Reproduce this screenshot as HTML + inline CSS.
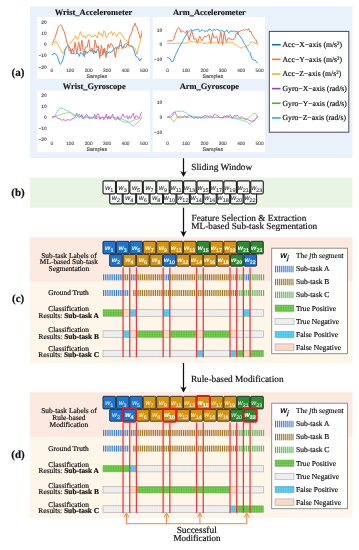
<!DOCTYPE html>
<html lang="en"><head><meta charset="utf-8"><title>Figure</title>
<style>
html,body{margin:0;padding:0;background:#fff;}
svg{display:block;}
text{text-rendering:geometricPrecision;}
</style></head><body>
<svg width="359" height="550" viewBox="0 0 359 550">
<defs>
<pattern id="dots" width="1.7" height="1.7" patternUnits="userSpaceOnUse"><rect x="0" y="0" width="0.8" height="0.8" fill="#ffffff" fill-opacity="0.3"/><rect x="0.85" y="0.85" width="0.8" height="0.8" fill="#000" fill-opacity="0.025"/></pattern>
<pattern id="sB" x="103.0" y="0" width="1.86" height="10" patternUnits="userSpaceOnUse"><rect x="0" y="0" width="1.05" height="10" fill="#2F7FD8"/></pattern>
<pattern id="sBL" x="275" y="0" width="1.95" height="10" patternUnits="userSpaceOnUse"><rect x="0" y="0" width="1.1" height="10" fill="#2F7FD8"/></pattern>
<pattern id="sG" x="103.0" y="0" width="1.86" height="10" patternUnits="userSpaceOnUse"><rect x="0" y="0" width="1.05" height="10" fill="#9A7218"/></pattern>
<pattern id="sGL" x="275" y="0" width="1.95" height="10" patternUnits="userSpaceOnUse"><rect x="0" y="0" width="1.1" height="10" fill="#9A7218"/></pattern>
<pattern id="sR" x="103.0" y="0" width="1.86" height="10" patternUnits="userSpaceOnUse"><rect x="0" y="0" width="1.05" height="10" fill="#55B653"/></pattern>
<pattern id="sRL" x="275" y="0" width="1.95" height="10" patternUnits="userSpaceOnUse"><rect x="0" y="0" width="1.1" height="10" fill="#55B653"/></pattern>
</defs>
<rect x="30.00" y="6.40" width="322.50" height="151.60" fill="#E9F1FB" />
<rect x="37.00" y="17.00" width="113.00" height="61.70" fill="#fff" />
<rect x="152.70" y="17.00" width="112.30" height="61.70" fill="#fff" />
<rect x="37.00" y="90.40" width="113.00" height="61.70" fill="#fff" />
<rect x="152.70" y="90.40" width="112.30" height="61.70" fill="#fff" />
<polyline points="52.4,44.6 53.7,42.8 55.0,41.7 56.3,41.5 57.5,43.8 58.8,46.3 60.1,48.6 61.4,50.9 62.7,53.3 64.0,51.6 65.2,49.2 66.5,47.7 67.8,45.6 69.1,44.5 70.4,42.9 71.7,41.1 72.9,40.7 74.2,37.8 75.5,35.5 76.8,39.1 78.1,39.0 79.4,34.8 80.6,31.5 81.9,35.8 83.2,37.0 84.5,35.2 85.8,38.2 87.1,36.6 88.3,34.8 89.6,34.2 90.9,36.4 92.2,36.4 93.5,36.5 94.8,34.7 96.0,36.1 97.3,38.2 98.6,31.8 99.9,34.1 101.2,33.4 102.5,37.1 103.8,30.8 105.0,31.9 106.3,37.7 107.6,36.1 108.9,33.1 110.2,33.2 111.5,31.5 112.7,35.6 114.0,32.4 115.3,33.7 116.6,36.7 117.9,34.5 119.2,32.2 120.4,32.5 121.7,35.3 123.0,35.5 124.3,39.3 125.6,39.9 126.9,40.6 128.1,44.3 129.4,47.3 130.7,46.7 132.0,46.6 133.3,46.9 134.6,47.9 135.8,50.6 137.1,54.4 138.4,46.9 139.7,43.8 141.0,37.5 141.7,30.8" fill="none" stroke="#FBB53C" stroke-width="1.0" stroke-linejoin="round" stroke-linecap="round"/>
<polyline points="52.4,54.6 53.7,53.8 55.0,53.5 56.3,54.5 57.5,56.9 58.8,60.9 60.1,64.5 61.4,63.3 62.7,60.1 64.0,55.6 65.2,49.5 66.5,46.8 67.8,45.6 69.1,46.9 70.4,49.0 71.7,52.7 72.9,53.9 74.2,52.8 75.5,54.1 76.8,53.0 78.1,53.2 79.4,56.4 80.6,52.4 81.9,53.2 83.2,55.0 84.5,56.8 85.8,50.9 87.1,53.6 88.3,51.7 89.6,50.3 90.9,51.5 92.2,49.8 93.5,53.8 94.8,50.6 96.0,53.3 97.3,49.4 98.6,49.7 99.9,55.8 101.2,55.4 102.5,54.7 103.8,48.7 105.0,52.8 106.3,51.2 107.6,53.7 108.9,51.7 110.2,52.3 111.5,52.2 112.7,50.3 114.0,50.0 115.3,47.6 116.6,48.8 117.9,46.7 119.2,46.7 120.4,45.4 121.7,46.5 123.0,48.3 124.3,44.6 125.6,43.7 126.9,44.0 128.1,45.2 129.4,44.8 130.7,46.1 132.0,45.8 133.3,48.5 134.6,52.0 135.8,56.4 137.1,57.0 138.4,57.8 139.7,60.9 141.0,58.7 141.7,58.9" fill="none" stroke="#2FA3DE" stroke-width="1.0" stroke-linejoin="round" stroke-linecap="round"/>
<polyline points="52.4,42.6 53.4,41.5 54.4,38.7 55.4,37.1 56.4,32.8 57.4,29.9 58.3,26.8 59.3,25.7 60.3,24.9 61.3,25.5 62.3,27.2 63.3,30.0 64.3,31.6 65.3,35.8 66.3,39.7 67.3,44.2 68.2,45.3 69.2,50.8 70.2,49.3 71.2,54.0 72.2,48.4 73.7,52.5 75.1,42.2 76.7,54.0 78.7,41.9 80.3,51.1 81.9,40.2 83.7,55.7 85.2,47.1 87.2,47.0 88.7,39.7 90.4,50.8 92.1,48.2 93.7,53.3 95.0,40.1 97.0,48.1 98.3,45.8 99.7,58.4 101.4,45.0 102.8,55.1 104.6,48.1 106.0,57.6 108.1,44.2 109.3,47.7 110.7,43.7 112.2,44.6 113.6,48.0 115.3,57.4 116.9,46.9 118.7,49.0 120.6,39.7 122.2,48.7 123.7,46.3 125.7,47.6 127.2,44.6 128.2,44.7 129.2,38.1 130.2,36.0 131.2,33.4 132.2,31.1 133.2,26.7 134.2,26.0 135.2,23.1 136.1,26.6 137.1,27.0 138.1,31.7 139.1,34.2 140.1,38.1 141.1,36.1 141.7,34.2" fill="none" stroke="#F4734B" stroke-width="1.0" stroke-linejoin="round" stroke-linecap="round"/>
<polyline points="167.6,43.5 168.9,43.5 170.2,43.5 171.5,43.6 172.8,43.7 174.0,43.3 175.3,43.4 176.6,43.2 177.9,43.4 179.2,43.1 180.5,43.4 181.8,43.0 183.1,43.0 184.3,43.2 185.6,43.0 186.9,42.7 188.2,42.9 189.5,42.2 190.8,41.5 192.1,42.2 193.4,41.5 194.6,41.8 195.9,41.7 197.2,42.6 198.5,43.1 199.8,42.1 201.1,42.2 202.4,43.0 203.7,43.6 205.0,43.5 206.2,42.8 207.5,43.3 208.8,42.3 210.1,42.8 211.4,43.4 212.7,42.6 214.0,43.1 215.3,42.1 216.5,42.1 217.8,42.7 219.1,42.5 220.4,42.4 221.7,42.2 223.0,41.9 224.3,43.3 225.6,42.8 226.8,42.4 228.1,42.8 229.4,42.3 230.7,43.1 232.0,41.8 233.3,43.1 234.6,44.6 235.9,44.5 237.2,45.8 238.4,46.7 239.7,46.9 241.0,48.2 242.3,47.9 243.6,46.6 244.9,46.5 246.2,47.3 247.5,45.3 248.7,45.5 250.0,43.9 251.3,41.9 252.6,41.7 253.9,42.8 255.2,43.3 256.5,44.0 257.4,44.4" fill="none" stroke="#FBB53C" stroke-width="1.0" stroke-linejoin="round" stroke-linecap="round"/>
<polyline points="167.6,41.0 168.8,41.1 170.0,40.6 171.2,40.8 172.5,40.3 173.7,39.3 174.9,35.3 176.1,32.1 177.3,29.3 178.5,27.5 179.7,28.7 181.0,32.3 182.2,31.2 183.4,31.1 184.6,32.2 185.8,33.3 187.0,30.4 189.1,40.6 191.6,30.2 194.0,39.5 195.7,38.2 197.5,43.1 199.7,36.1 202.0,40.8 204.1,36.8 206.6,36.5 208.9,34.4 210.8,43.5 212.4,32.8 214.1,38.0 216.6,36.5 218.6,43.8 220.9,31.7 222.5,44.6 224.3,32.1 226.2,41.7 228.0,38.3 229.6,38.4 232.1,39.9 234.6,38.9 236.4,32.9 237.6,34.5 238.8,31.1 240.1,31.6 241.3,30.2 242.5,30.4 243.7,29.3 244.9,30.5 246.1,29.3 247.3,30.4 248.6,28.5 249.8,31.9 251.0,31.3 252.2,34.9 253.4,36.5 254.6,38.4 255.8,39.6 257.1,43.3 257.4,43.1" fill="none" stroke="#F4734B" stroke-width="1.0" stroke-linejoin="round" stroke-linecap="round"/>
<polyline points="167.6,57.5 168.9,58.1 170.2,59.1 171.5,61.6 172.8,61.8 174.0,58.6 175.3,55.4 176.6,52.7 177.9,49.9 179.2,47.5 180.5,45.0 181.8,42.9 183.1,40.6 184.3,38.4 185.6,36.0 186.9,33.8 188.2,32.3 189.5,30.8 190.8,29.5 192.1,30.5 193.4,30.7 194.6,30.0 195.9,29.8 197.2,29.4 198.5,29.3 199.8,31.8 201.1,30.2 202.4,29.9 203.7,30.5 205.0,31.5 206.2,30.6 207.5,31.8 208.8,29.1 210.1,29.3 211.4,30.3 212.7,31.1 214.0,29.2 215.3,30.3 216.5,29.4 217.8,29.5 219.1,30.6 220.4,31.0 221.7,30.4 223.0,31.0 224.3,31.9 225.6,31.5 226.8,29.9 228.1,32.4 229.4,32.4 230.7,30.6 232.0,31.7 233.3,31.0 234.6,31.2 235.9,31.8 237.2,31.4 238.4,34.3 239.7,35.8 241.0,38.0 242.3,39.6 243.6,42.4 244.9,44.6 246.2,46.2 247.5,49.4 248.7,51.2 250.0,52.5 251.3,57.2 252.6,59.4 253.9,60.1 255.2,60.1 256.5,61.8 257.4,63.0" fill="none" stroke="#2FA3DE" stroke-width="1.0" stroke-linejoin="round" stroke-linecap="round"/>
<polyline points="52.4,117.1 53.7,116.7 55.0,116.4 56.3,115.9 57.5,115.7 58.8,115.2 60.1,114.6 61.4,114.5 62.7,114.0 64.0,113.7 65.2,113.3 66.5,113.0 67.8,112.8 69.1,112.2 70.4,112.5 71.7,113.0 72.9,113.6 74.2,114.4 75.5,115.1 76.8,115.1 78.1,115.9 79.4,116.5 80.6,116.6 81.9,115.8 83.2,117.4 84.5,116.7 85.8,117.3 87.1,117.0 88.3,117.6 89.6,117.1 90.9,117.6 92.2,117.4 93.5,117.1 94.8,117.8 96.0,118.6 97.3,118.8 98.6,117.4 99.9,118.1 101.2,118.5 102.5,117.1 103.8,117.7 105.0,117.3 106.3,117.0 107.6,117.9 108.9,117.6 110.2,116.7 111.5,117.8 112.7,116.7 114.0,118.1 115.3,117.8 116.6,118.4 117.9,118.7 119.2,119.5 120.4,120.3 121.7,121.1 123.0,121.7 124.3,122.1 125.6,122.1 126.9,122.2 128.1,121.9 129.4,122.1 130.7,121.4 132.0,120.9 133.3,120.3 134.6,119.9 135.8,119.5 137.1,119.2 138.4,118.8 139.7,118.4 141.0,117.8 141.7,117.7" fill="none" stroke="#9CCB5A" stroke-width="0.85" stroke-linejoin="round" stroke-linecap="round"/>
<polyline points="52.4,117.1 53.7,116.7 55.0,115.3 56.3,113.2 57.5,111.1 58.8,109.4 60.1,108.0 61.4,108.0 62.7,108.7 64.0,109.1 65.2,109.8 66.5,110.4 67.8,110.9 69.1,111.5 70.4,112.7 71.7,114.0 72.9,115.2 74.2,115.6 75.5,116.6 76.8,117.4 78.1,115.8 79.4,118.4 80.6,116.2 81.9,117.8 83.2,118.2 84.5,118.3 85.8,117.8 87.1,116.4 88.3,118.2 89.6,117.1 90.9,117.0 92.2,117.7 93.5,117.3 94.8,118.7 96.0,118.7 97.3,118.3 98.6,117.0 99.9,117.7 101.2,118.1 102.5,117.3 103.8,117.7 105.0,118.2 106.3,116.8 107.6,117.1 108.9,118.4 110.2,117.6 111.5,117.8 112.7,117.0 114.0,117.4 115.3,118.5 116.6,117.1 117.9,118.9 119.2,118.3 120.4,117.8 121.7,119.3 123.0,119.3 124.3,120.3 125.6,120.2 126.9,121.1 128.1,122.2 129.4,123.0 130.7,124.3 132.0,125.2 133.3,126.2 134.6,125.2 135.8,124.3 137.1,122.9 138.4,121.5 139.7,120.4 141.0,118.9 141.7,118.2" fill="none" stroke="#4FD3EE" stroke-width="0.85" stroke-linejoin="round" stroke-linecap="round"/>
<polyline points="52.4,117.1 53.7,116.9 55.0,116.9 56.3,116.4 57.5,118.2 58.8,118.8 60.1,118.7 61.4,120.3 62.7,119.8 64.0,119.7 65.2,120.6 66.5,120.1 67.8,119.5 69.1,120.2 70.4,119.9 71.7,119.9 72.9,118.0 74.2,118.5 75.5,116.2 76.8,113.2 78.1,115.4 79.4,114.3 80.6,116.9 81.9,114.5 83.2,118.8 84.5,117.6 85.8,115.1 87.1,114.8 88.3,116.8 89.6,119.1 90.9,117.9 92.2,118.3 93.5,117.9 94.8,114.4 96.0,118.5 97.3,114.0 98.6,114.0 99.9,119.5 101.2,117.4 102.5,116.7 103.8,119.8 105.0,117.2 106.3,114.0 107.6,119.3 108.9,116.1 110.2,119.2 111.5,116.2 112.7,114.1 114.0,118.7 115.3,119.9 116.6,119.4 117.9,116.4 119.2,119.8 120.4,119.4 121.7,116.6 123.0,113.8 124.3,117.1 125.6,117.2 126.9,115.6 128.1,119.1 129.4,115.8 130.7,118.4 132.0,115.4 133.3,113.1 134.6,119.0 135.8,115.9 137.1,116.0 138.4,118.3 139.7,117.4 141.0,113.2 141.7,112.1" fill="none" stroke="#C860C8" stroke-width="0.85" stroke-linejoin="round" stroke-linecap="round"/>
<polyline points="167.6,117.1 168.9,117.5 170.2,117.9 171.5,118.6 172.8,120.9 174.0,121.6 175.3,120.0 176.6,118.3 177.9,116.5 179.2,116.3 180.5,116.6 181.8,116.9 183.1,117.3 184.3,117.1 185.6,117.3 186.9,116.9 188.2,117.3 189.5,116.9 190.8,117.3 192.1,117.0 193.4,117.2 194.6,117.2 195.9,116.9 197.2,117.4 198.5,117.3 199.8,116.9 201.1,117.1 202.4,117.3 203.7,116.8 205.0,116.9 206.2,117.3 207.5,117.2 208.8,117.4 210.1,117.3 211.4,117.1 212.7,117.4 214.0,117.1 215.3,117.5 216.5,117.5 217.8,117.1 219.1,117.4 220.4,117.4 221.7,117.3 223.0,117.4 224.3,117.5 225.6,117.7 226.8,117.3 228.1,117.2 229.4,117.2 230.7,117.4 232.0,117.6 233.3,117.7 234.6,117.7 235.9,117.8 237.2,118.1 238.4,118.2 239.7,118.2 241.0,118.3 242.3,118.4 243.6,118.7 244.9,119.1 246.2,119.1 247.5,118.7 248.7,117.7 250.0,116.6 251.3,115.2 252.6,114.0 253.9,113.4 255.2,113.2 256.5,114.7 257.4,117.1" fill="none" stroke="#9CCB5A" stroke-width="0.85" stroke-linejoin="round" stroke-linecap="round"/>
<polyline points="167.6,117.1 168.9,116.4 170.2,115.7 171.5,114.5 172.8,113.0 174.0,112.2 175.3,111.5 176.6,111.1 177.9,111.2 179.2,111.5 180.5,111.4 181.8,111.0 183.1,111.2 184.3,112.0 185.6,112.5 186.9,113.4 188.2,114.5 189.5,115.2 190.8,115.7 192.1,116.2 193.4,116.4 194.6,116.6 195.9,117.0 197.2,116.8 198.5,116.8 199.8,117.0 201.1,117.3 202.4,117.9 203.7,118.1 205.0,118.1 206.2,117.4 207.5,117.9 208.8,117.8 210.1,117.3 211.4,117.8 212.7,117.5 214.0,117.6 215.3,117.9 216.5,117.4 217.8,117.1 219.1,117.7 220.4,117.6 221.7,117.4 223.0,117.6 224.3,117.2 225.6,116.9 226.8,117.0 228.1,117.1 229.4,117.0 230.7,117.8 232.0,117.8 233.3,118.2 234.6,118.3 235.9,118.8 237.2,118.8 238.4,119.5 239.7,119.8 241.0,119.9 242.3,120.2 243.6,120.7 244.9,121.0 246.2,121.4 247.5,122.2 248.7,123.3 250.0,124.5 251.3,122.8 252.6,121.3 253.9,120.7 255.2,119.8 256.5,118.2 257.4,117.1" fill="none" stroke="#4FD3EE" stroke-width="0.85" stroke-linejoin="round" stroke-linecap="round"/>
<polyline points="167.6,117.1 168.9,117.1 170.2,117.1 171.5,116.8 172.8,114.8 174.0,112.7 175.3,112.3 176.6,115.9 177.9,117.5 179.2,117.8 180.5,117.8 181.8,116.8 183.1,117.4 184.3,115.8 185.6,116.2 186.9,118.0 188.2,115.5 189.5,115.5 190.8,116.6 192.1,116.7 193.4,118.2 194.6,118.6 195.9,116.7 197.2,118.4 198.5,117.9 199.8,117.6 201.1,118.4 202.4,116.6 203.7,116.7 205.0,115.0 206.2,116.3 207.5,115.8 208.8,116.4 210.1,115.8 211.4,116.7 212.7,117.4 214.0,114.5 215.3,114.5 216.5,115.2 217.8,115.7 219.1,117.4 220.4,117.7 221.7,117.5 223.0,118.4 224.3,115.6 225.6,117.0 226.8,115.2 228.1,117.0 229.4,114.8 230.7,115.2 232.0,118.3 233.3,117.5 234.6,115.0 235.9,116.5 237.2,114.8 238.4,116.8 239.7,117.7 241.0,116.9 242.3,117.2 243.6,118.3 244.9,119.0 246.2,119.2 247.5,119.2 248.7,119.9 250.0,120.9 251.3,121.0 252.6,121.1 253.9,121.1 255.2,119.3 256.5,117.8 257.4,116.4" fill="none" stroke="#C860C8" stroke-width="0.85" stroke-linejoin="round" stroke-linecap="round"/>
<text x="46.80" y="23.60" font-family='"Liberation Sans", sans-serif' font-size="4.9" text-anchor="end" font-weight="bold" font-style="normal" fill="#4a4a4a" >20</text>
<text x="46.80" y="34.82" font-family='"Liberation Sans", sans-serif' font-size="4.9" text-anchor="end" font-weight="bold" font-style="normal" fill="#4a4a4a" >10</text>
<text x="46.80" y="46.05" font-family='"Liberation Sans", sans-serif' font-size="4.9" text-anchor="end" font-weight="bold" font-style="normal" fill="#4a4a4a" >0</text>
<text x="46.80" y="57.27" font-family='"Liberation Sans", sans-serif' font-size="4.9" text-anchor="end" font-weight="bold" font-style="normal" fill="#4a4a4a" >−10</text>
<text x="46.80" y="68.50" font-family='"Liberation Sans", sans-serif' font-size="4.9" text-anchor="end" font-weight="bold" font-style="normal" fill="#4a4a4a" >−20</text>
<text x="51.80" y="71.90" font-family='"Liberation Sans", sans-serif' font-size="4.8" text-anchor="middle" font-weight="normal" font-style="normal" fill="#4a4a4a" stroke="#4a4a4a" stroke-width="0.1" >0</text>
<text x="70.22" y="71.90" font-family='"Liberation Sans", sans-serif' font-size="4.8" text-anchor="middle" font-weight="normal" font-style="normal" fill="#4a4a4a" stroke="#4a4a4a" stroke-width="0.1" >100</text>
<text x="88.64" y="71.90" font-family='"Liberation Sans", sans-serif' font-size="4.8" text-anchor="middle" font-weight="normal" font-style="normal" fill="#4a4a4a" stroke="#4a4a4a" stroke-width="0.1" >200</text>
<text x="107.06" y="71.90" font-family='"Liberation Sans", sans-serif' font-size="4.8" text-anchor="middle" font-weight="normal" font-style="normal" fill="#4a4a4a" stroke="#4a4a4a" stroke-width="0.1" >300</text>
<text x="125.48" y="71.90" font-family='"Liberation Sans", sans-serif' font-size="4.8" text-anchor="middle" font-weight="normal" font-style="normal" fill="#4a4a4a" stroke="#4a4a4a" stroke-width="0.1" >400</text>
<text x="143.90" y="71.90" font-family='"Liberation Sans", sans-serif' font-size="4.8" text-anchor="middle" font-weight="normal" font-style="normal" fill="#4a4a4a" stroke="#4a4a4a" stroke-width="0.1" >500</text>
<text x="96.80" y="77.90" font-family='"Liberation Sans", sans-serif' font-size="5.3" text-anchor="middle" font-weight="normal" font-style="normal" fill="#333" stroke="#333" stroke-width="0.1" >Samples</text>
<text x="162.20" y="31.50" font-family='"Liberation Sans", sans-serif' font-size="4.9" text-anchor="end" font-weight="bold" font-style="normal" fill="#4a4a4a" >10</text>
<text x="162.20" y="46.15" font-family='"Liberation Sans", sans-serif' font-size="4.9" text-anchor="end" font-weight="bold" font-style="normal" fill="#4a4a4a" >0</text>
<text x="162.20" y="60.80" font-family='"Liberation Sans", sans-serif' font-size="4.9" text-anchor="end" font-weight="bold" font-style="normal" fill="#4a4a4a" >−10</text>
<text x="167.60" y="71.90" font-family='"Liberation Sans", sans-serif' font-size="4.8" text-anchor="middle" font-weight="normal" font-style="normal" fill="#4a4a4a" stroke="#4a4a4a" stroke-width="0.1" >0</text>
<text x="186.00" y="71.90" font-family='"Liberation Sans", sans-serif' font-size="4.8" text-anchor="middle" font-weight="normal" font-style="normal" fill="#4a4a4a" stroke="#4a4a4a" stroke-width="0.1" >100</text>
<text x="204.40" y="71.90" font-family='"Liberation Sans", sans-serif' font-size="4.8" text-anchor="middle" font-weight="normal" font-style="normal" fill="#4a4a4a" stroke="#4a4a4a" stroke-width="0.1" >200</text>
<text x="222.80" y="71.90" font-family='"Liberation Sans", sans-serif' font-size="4.8" text-anchor="middle" font-weight="normal" font-style="normal" fill="#4a4a4a" stroke="#4a4a4a" stroke-width="0.1" >300</text>
<text x="241.20" y="71.90" font-family='"Liberation Sans", sans-serif' font-size="4.8" text-anchor="middle" font-weight="normal" font-style="normal" fill="#4a4a4a" stroke="#4a4a4a" stroke-width="0.1" >400</text>
<text x="259.60" y="71.90" font-family='"Liberation Sans", sans-serif' font-size="4.8" text-anchor="middle" font-weight="normal" font-style="normal" fill="#4a4a4a" stroke="#4a4a4a" stroke-width="0.1" >500</text>
<text x="212.80" y="77.90" font-family='"Liberation Sans", sans-serif' font-size="5.3" text-anchor="middle" font-weight="normal" font-style="normal" fill="#333" stroke="#333" stroke-width="0.1" >Samples</text>
<text x="46.80" y="96.75" font-family='"Liberation Sans", sans-serif' font-size="4.9" text-anchor="end" font-weight="bold" font-style="normal" fill="#4a4a4a" >20</text>
<text x="46.80" y="107.80" font-family='"Liberation Sans", sans-serif' font-size="4.9" text-anchor="end" font-weight="bold" font-style="normal" fill="#4a4a4a" >10</text>
<text x="46.80" y="118.85" font-family='"Liberation Sans", sans-serif' font-size="4.9" text-anchor="end" font-weight="bold" font-style="normal" fill="#4a4a4a" >0</text>
<text x="46.80" y="129.90" font-family='"Liberation Sans", sans-serif' font-size="4.9" text-anchor="end" font-weight="bold" font-style="normal" fill="#4a4a4a" >−10</text>
<text x="46.80" y="140.95" font-family='"Liberation Sans", sans-serif' font-size="4.9" text-anchor="end" font-weight="bold" font-style="normal" fill="#4a4a4a" >−20</text>
<text x="51.80" y="144.70" font-family='"Liberation Sans", sans-serif' font-size="4.8" text-anchor="middle" font-weight="normal" font-style="normal" fill="#4a4a4a" stroke="#4a4a4a" stroke-width="0.1" >0</text>
<text x="70.22" y="144.70" font-family='"Liberation Sans", sans-serif' font-size="4.8" text-anchor="middle" font-weight="normal" font-style="normal" fill="#4a4a4a" stroke="#4a4a4a" stroke-width="0.1" >100</text>
<text x="88.64" y="144.70" font-family='"Liberation Sans", sans-serif' font-size="4.8" text-anchor="middle" font-weight="normal" font-style="normal" fill="#4a4a4a" stroke="#4a4a4a" stroke-width="0.1" >200</text>
<text x="107.06" y="144.70" font-family='"Liberation Sans", sans-serif' font-size="4.8" text-anchor="middle" font-weight="normal" font-style="normal" fill="#4a4a4a" stroke="#4a4a4a" stroke-width="0.1" >300</text>
<text x="125.48" y="144.70" font-family='"Liberation Sans", sans-serif' font-size="4.8" text-anchor="middle" font-weight="normal" font-style="normal" fill="#4a4a4a" stroke="#4a4a4a" stroke-width="0.1" >400</text>
<text x="143.90" y="144.70" font-family='"Liberation Sans", sans-serif' font-size="4.8" text-anchor="middle" font-weight="normal" font-style="normal" fill="#4a4a4a" stroke="#4a4a4a" stroke-width="0.1" >500</text>
<text x="96.80" y="150.80" font-family='"Liberation Sans", sans-serif' font-size="5.3" text-anchor="middle" font-weight="normal" font-style="normal" fill="#333" stroke="#333" stroke-width="0.1" >Samples</text>
<text x="162.20" y="104.20" font-family='"Liberation Sans", sans-serif' font-size="4.9" text-anchor="end" font-weight="bold" font-style="normal" fill="#4a4a4a" >10</text>
<text x="162.20" y="118.85" font-family='"Liberation Sans", sans-serif' font-size="4.9" text-anchor="end" font-weight="bold" font-style="normal" fill="#4a4a4a" >0</text>
<text x="162.20" y="133.50" font-family='"Liberation Sans", sans-serif' font-size="4.9" text-anchor="end" font-weight="bold" font-style="normal" fill="#4a4a4a" >−10</text>
<text x="167.60" y="144.70" font-family='"Liberation Sans", sans-serif' font-size="4.8" text-anchor="middle" font-weight="normal" font-style="normal" fill="#4a4a4a" stroke="#4a4a4a" stroke-width="0.1" >0</text>
<text x="186.00" y="144.70" font-family='"Liberation Sans", sans-serif' font-size="4.8" text-anchor="middle" font-weight="normal" font-style="normal" fill="#4a4a4a" stroke="#4a4a4a" stroke-width="0.1" >100</text>
<text x="204.40" y="144.70" font-family='"Liberation Sans", sans-serif' font-size="4.8" text-anchor="middle" font-weight="normal" font-style="normal" fill="#4a4a4a" stroke="#4a4a4a" stroke-width="0.1" >200</text>
<text x="222.80" y="144.70" font-family='"Liberation Sans", sans-serif' font-size="4.8" text-anchor="middle" font-weight="normal" font-style="normal" fill="#4a4a4a" stroke="#4a4a4a" stroke-width="0.1" >300</text>
<text x="241.20" y="144.70" font-family='"Liberation Sans", sans-serif' font-size="4.8" text-anchor="middle" font-weight="normal" font-style="normal" fill="#4a4a4a" stroke="#4a4a4a" stroke-width="0.1" >400</text>
<text x="259.60" y="144.70" font-family='"Liberation Sans", sans-serif' font-size="4.8" text-anchor="middle" font-weight="normal" font-style="normal" fill="#4a4a4a" stroke="#4a4a4a" stroke-width="0.1" >500</text>
<text x="212.80" y="150.80" font-family='"Liberation Sans", sans-serif' font-size="5.3" text-anchor="middle" font-weight="normal" font-style="normal" fill="#333" stroke="#333" stroke-width="0.1" >Samples</text>
<text x="93.50" y="14.50" font-family='"Liberation Serif", serif' font-size="8.5" text-anchor="middle" font-weight="bold" font-style="normal" fill="#111" stroke="#111" stroke-width="0.1" >Wrist_Accelerometer</text>
<text x="209.40" y="14.50" font-family='"Liberation Serif", serif' font-size="8.4" text-anchor="middle" font-weight="bold" font-style="normal" fill="#111" stroke="#111" stroke-width="0.1" >Arm_Accelerometer</text>
<text x="94.30" y="89.40" font-family='"Liberation Serif", serif' font-size="8.45" text-anchor="middle" font-weight="bold" font-style="normal" fill="#111" stroke="#111" stroke-width="0.1" >Wrist_Gyroscope</text>
<text x="209.40" y="89.40" font-family='"Liberation Serif", serif' font-size="8.45" text-anchor="middle" font-weight="bold" font-style="normal" fill="#111" stroke="#111" stroke-width="0.1" >Arm_Gyroscope</text>
<rect x="269.30" y="31.40" width="79.50" height="100.80" fill="#fff" stroke="#4a4a4a" stroke-width="1.0" />
<line x1="272.00" y1="44.70" x2="280.60" y2="44.70" stroke="#0B6FC2" stroke-width="1.6" />
<text x="282.50" y="47.20" font-family='"Liberation Serif", serif' font-size="7.7" text-anchor="start" font-weight="normal" font-style="normal" fill="#111" stroke="#111" stroke-width="0.18" >Acc−X−axis (m/s<tspan font-size="5" dy="-2.3">2</tspan><tspan dy="2.3">)</tspan></text>
<line x1="272.00" y1="59.34" x2="280.60" y2="59.34" stroke="#F47C20" stroke-width="1.6" />
<text x="282.50" y="61.84" font-family='"Liberation Serif", serif' font-size="7.7" text-anchor="start" font-weight="normal" font-style="normal" fill="#111" stroke="#111" stroke-width="0.18" >Acc−Y−axis (m/s<tspan font-size="5" dy="-2.3">2</tspan><tspan dy="2.3">)</tspan></text>
<line x1="272.00" y1="73.98" x2="280.60" y2="73.98" stroke="#F7B516" stroke-width="1.6" />
<text x="282.50" y="76.48" font-family='"Liberation Serif", serif' font-size="7.7" text-anchor="start" font-weight="normal" font-style="normal" fill="#111" stroke="#111" stroke-width="0.18" >Acc−Z−axis (m/s<tspan font-size="5" dy="-2.3">2</tspan><tspan dy="2.3">)</tspan></text>
<line x1="272.00" y1="88.62" x2="280.60" y2="88.62" stroke="#8E44C8" stroke-width="1.6" />
<text x="282.50" y="91.12" font-family='"Liberation Serif", serif' font-size="7.7" text-anchor="start" font-weight="normal" font-style="normal" fill="#111" stroke="#111" stroke-width="0.18" >Gyro−X−axis (rad/s)</text>
<line x1="272.00" y1="103.26" x2="280.60" y2="103.26" stroke="#4CAF32" stroke-width="1.6" />
<text x="282.50" y="105.76" font-family='"Liberation Serif", serif' font-size="7.7" text-anchor="start" font-weight="normal" font-style="normal" fill="#111" stroke="#111" stroke-width="0.18" >Gyro−Y−axis (rad/s)</text>
<line x1="272.00" y1="117.90" x2="280.60" y2="117.90" stroke="#1FB4F0" stroke-width="1.6" />
<text x="282.50" y="120.40" font-family='"Liberation Serif", serif' font-size="7.7" text-anchor="start" font-weight="normal" font-style="normal" fill="#111" stroke="#111" stroke-width="0.18" >Gyro−Z−axis (rad/s)</text>
<text x="11.60" y="75.70" font-family='"Liberation Serif", serif' font-size="11" text-anchor="start" font-weight="bold" font-style="normal" fill="#111" stroke="#111" stroke-width="0.2" >(a)</text>
<text x="11.30" y="196.20" font-family='"Liberation Serif", serif' font-size="11" text-anchor="start" font-weight="bold" font-style="normal" fill="#111" stroke="#111" stroke-width="0.2" >(b)</text>
<text x="12.00" y="302.10" font-family='"Liberation Serif", serif' font-size="11" text-anchor="start" font-weight="bold" font-style="normal" fill="#111" stroke="#111" stroke-width="0.2" >(c)</text>
<text x="11.30" y="458.00" font-family='"Liberation Serif", serif' font-size="11" text-anchor="start" font-weight="bold" font-style="normal" fill="#111" stroke="#111" stroke-width="0.2" >(d)</text>
<line x1="183.50" y1="158.20" x2="183.50" y2="174.10" stroke="#111" stroke-width="1.25" />
<path d="M180.30,170.90 L183.50,177.10 L186.70,170.90 L183.50,172.70 Z" fill="#111"/>
<text x="191.30" y="170.40" font-family='"Liberation Serif", serif' font-size="9.35" text-anchor="start" font-weight="normal" font-style="normal" fill="#111" stroke="#111" stroke-width="0.18" >Sliding Window</text>
<line x1="183.50" y1="206.50" x2="183.50" y2="233.90" stroke="#111" stroke-width="1.25" />
<path d="M180.30,230.70 L183.50,236.90 L186.70,230.70 L183.50,232.50 Z" fill="#111"/>
<text x="191.50" y="220.50" font-family='"Liberation Serif", serif' font-size="9.25" text-anchor="start" font-weight="normal" font-style="normal" fill="#111" stroke="#111" stroke-width="0.18" >Feature Selection &amp; Extraction</text>
<text x="191.30" y="228.80" font-family='"Liberation Serif", serif' font-size="9.25" text-anchor="start" font-weight="normal" font-style="normal" fill="#111" stroke="#111" stroke-width="0.18" >ML-based Sub-task Segmentation</text>
<line x1="183.50" y1="363.00" x2="183.50" y2="389.70" stroke="#111" stroke-width="1.25" />
<path d="M180.30,386.50 L183.50,392.70 L186.70,386.50 L183.50,388.30 Z" fill="#111"/>
<text x="190.90" y="382.00" font-family='"Liberation Serif", serif' font-size="9.3" text-anchor="start" font-weight="normal" font-style="normal" fill="#111" stroke="#111" stroke-width="0.18" >Rule-based Modification</text>
<rect x="30.00" y="177.60" width="322.50" height="30.10" fill="#EAF4E4" />
<rect x="109.72" y="190.60" width="12.53" height="13.20" fill="#F8F8F8" stroke="#222" stroke-width="1.15" rx="1.2" />
<text x="115.93" y="199.80" font-family='"Liberation Sans", sans-serif' font-size="7.0" font-style="italic" font-weight="normal" fill="#2f2f2f" stroke="#2f2f2f" stroke-width="0.06" text-anchor="middle">w<tspan font-size="5.53" dy="1.7" font-style="normal">2</tspan></text>
<rect x="123.15" y="190.60" width="12.53" height="13.20" fill="#F8F8F8" stroke="#222" stroke-width="1.15" rx="1.2" />
<text x="129.36" y="199.80" font-family='"Liberation Sans", sans-serif' font-size="7.0" font-style="italic" font-weight="normal" fill="#2f2f2f" stroke="#2f2f2f" stroke-width="0.06" text-anchor="middle">w<tspan font-size="5.53" dy="1.7" font-style="normal">4</tspan></text>
<rect x="136.57" y="190.60" width="12.53" height="13.20" fill="#F8F8F8" stroke="#222" stroke-width="1.15" rx="1.2" />
<text x="142.79" y="199.80" font-family='"Liberation Sans", sans-serif' font-size="7.0" font-style="italic" font-weight="normal" fill="#2f2f2f" stroke="#2f2f2f" stroke-width="0.06" text-anchor="middle">w<tspan font-size="5.53" dy="1.7" font-style="normal">6</tspan></text>
<rect x="150.00" y="190.60" width="12.53" height="13.20" fill="#F8F8F8" stroke="#222" stroke-width="1.15" rx="1.2" />
<text x="156.22" y="199.80" font-family='"Liberation Sans", sans-serif' font-size="7.0" font-style="italic" font-weight="normal" fill="#2f2f2f" stroke="#2f2f2f" stroke-width="0.06" text-anchor="middle">w<tspan font-size="5.53" dy="1.7" font-style="normal">8</tspan></text>
<rect x="163.44" y="190.60" width="12.53" height="13.20" fill="#F8F8F8" stroke="#222" stroke-width="1.15" rx="1.2" />
<text x="169.45" y="199.80" font-family='"Liberation Sans", sans-serif' font-size="7.0" font-style="italic" font-weight="normal" fill="#2f2f2f" stroke="#2f2f2f" stroke-width="0.06" text-anchor="middle">w<tspan font-size="5.53" dy="1.7" font-style="normal">10</tspan></text>
<rect x="176.87" y="190.60" width="12.53" height="13.20" fill="#F8F8F8" stroke="#222" stroke-width="1.15" rx="1.2" />
<text x="182.88" y="199.80" font-family='"Liberation Sans", sans-serif' font-size="7.0" font-style="italic" font-weight="normal" fill="#2f2f2f" stroke="#2f2f2f" stroke-width="0.06" text-anchor="middle">w<tspan font-size="5.53" dy="1.7" font-style="normal">12</tspan></text>
<rect x="190.30" y="190.60" width="12.53" height="13.20" fill="#F8F8F8" stroke="#222" stroke-width="1.15" rx="1.2" />
<text x="196.31" y="199.80" font-family='"Liberation Sans", sans-serif' font-size="7.0" font-style="italic" font-weight="normal" fill="#2f2f2f" stroke="#2f2f2f" stroke-width="0.06" text-anchor="middle">w<tspan font-size="5.53" dy="1.7" font-style="normal">14</tspan></text>
<rect x="203.72" y="190.60" width="12.53" height="13.20" fill="#F8F8F8" stroke="#222" stroke-width="1.15" rx="1.2" />
<text x="209.74" y="199.80" font-family='"Liberation Sans", sans-serif' font-size="7.0" font-style="italic" font-weight="normal" fill="#2f2f2f" stroke="#2f2f2f" stroke-width="0.06" text-anchor="middle">w<tspan font-size="5.53" dy="1.7" font-style="normal">16</tspan></text>
<rect x="217.16" y="190.60" width="12.53" height="13.20" fill="#F8F8F8" stroke="#222" stroke-width="1.15" rx="1.2" />
<text x="223.17" y="199.80" font-family='"Liberation Sans", sans-serif' font-size="7.0" font-style="italic" font-weight="normal" fill="#2f2f2f" stroke="#2f2f2f" stroke-width="0.06" text-anchor="middle">w<tspan font-size="5.53" dy="1.7" font-style="normal">18</tspan></text>
<rect x="230.59" y="190.60" width="12.53" height="13.20" fill="#F8F8F8" stroke="#222" stroke-width="1.15" rx="1.2" />
<text x="236.60" y="199.80" font-family='"Liberation Sans", sans-serif' font-size="7.0" font-style="italic" font-weight="normal" fill="#2f2f2f" stroke="#2f2f2f" stroke-width="0.06" text-anchor="middle">w<tspan font-size="5.53" dy="1.7" font-style="normal">20</tspan></text>
<rect x="244.02" y="190.60" width="12.53" height="13.20" fill="#F8F8F8" stroke="#222" stroke-width="1.15" rx="1.2" />
<text x="250.03" y="199.80" font-family='"Liberation Sans", sans-serif' font-size="7.0" font-style="italic" font-weight="normal" fill="#2f2f2f" stroke="#2f2f2f" stroke-width="0.06" text-anchor="middle">w<tspan font-size="5.53" dy="1.7" font-style="normal">22</tspan></text>
<rect x="103.00" y="180.80" width="12.53" height="13.00" fill="#F8F8F8" stroke="#222" stroke-width="1.15" rx="1.2" />
<text x="109.22" y="190.00" font-family='"Liberation Sans", sans-serif' font-size="7.0" font-style="italic" font-weight="normal" fill="#2f2f2f" stroke="#2f2f2f" stroke-width="0.06" text-anchor="middle">w<tspan font-size="5.53" dy="1.7" font-style="normal">1</tspan></text>
<rect x="116.43" y="180.80" width="12.53" height="13.00" fill="#F8F8F8" stroke="#222" stroke-width="1.15" rx="1.2" />
<text x="122.65" y="190.00" font-family='"Liberation Sans", sans-serif' font-size="7.0" font-style="italic" font-weight="normal" fill="#2f2f2f" stroke="#2f2f2f" stroke-width="0.06" text-anchor="middle">w<tspan font-size="5.53" dy="1.7" font-style="normal">3</tspan></text>
<rect x="129.86" y="180.80" width="12.53" height="13.00" fill="#F8F8F8" stroke="#222" stroke-width="1.15" rx="1.2" />
<text x="136.08" y="190.00" font-family='"Liberation Sans", sans-serif' font-size="7.0" font-style="italic" font-weight="normal" fill="#2f2f2f" stroke="#2f2f2f" stroke-width="0.06" text-anchor="middle">w<tspan font-size="5.53" dy="1.7" font-style="normal">5</tspan></text>
<rect x="143.29" y="180.80" width="12.53" height="13.00" fill="#F8F8F8" stroke="#222" stroke-width="1.15" rx="1.2" />
<text x="149.50" y="190.00" font-family='"Liberation Sans", sans-serif' font-size="7.0" font-style="italic" font-weight="normal" fill="#2f2f2f" stroke="#2f2f2f" stroke-width="0.06" text-anchor="middle">w<tspan font-size="5.53" dy="1.7" font-style="normal">7</tspan></text>
<rect x="156.72" y="180.80" width="12.53" height="13.00" fill="#F8F8F8" stroke="#222" stroke-width="1.15" rx="1.2" />
<text x="162.94" y="190.00" font-family='"Liberation Sans", sans-serif' font-size="7.0" font-style="italic" font-weight="normal" fill="#2f2f2f" stroke="#2f2f2f" stroke-width="0.06" text-anchor="middle">w<tspan font-size="5.53" dy="1.7" font-style="normal">9</tspan></text>
<rect x="170.15" y="180.80" width="12.53" height="13.00" fill="#F8F8F8" stroke="#222" stroke-width="1.15" rx="1.2" />
<text x="176.17" y="190.00" font-family='"Liberation Sans", sans-serif' font-size="7.0" font-style="italic" font-weight="normal" fill="#2f2f2f" stroke="#2f2f2f" stroke-width="0.06" text-anchor="middle">w<tspan font-size="5.53" dy="1.7" font-style="normal">11</tspan></text>
<rect x="183.58" y="180.80" width="12.53" height="13.00" fill="#F8F8F8" stroke="#222" stroke-width="1.15" rx="1.2" />
<text x="189.59" y="190.00" font-family='"Liberation Sans", sans-serif' font-size="7.0" font-style="italic" font-weight="normal" fill="#2f2f2f" stroke="#2f2f2f" stroke-width="0.06" text-anchor="middle">w<tspan font-size="5.53" dy="1.7" font-style="normal">13</tspan></text>
<rect x="197.01" y="180.80" width="12.53" height="13.00" fill="#F8F8F8" stroke="#222" stroke-width="1.15" rx="1.2" />
<text x="203.03" y="190.00" font-family='"Liberation Sans", sans-serif' font-size="7.0" font-style="italic" font-weight="normal" fill="#2f2f2f" stroke="#2f2f2f" stroke-width="0.06" text-anchor="middle">w<tspan font-size="5.53" dy="1.7" font-style="normal">15</tspan></text>
<rect x="210.44" y="180.80" width="12.53" height="13.00" fill="#F8F8F8" stroke="#222" stroke-width="1.15" rx="1.2" />
<text x="216.46" y="190.00" font-family='"Liberation Sans", sans-serif' font-size="7.0" font-style="italic" font-weight="normal" fill="#2f2f2f" stroke="#2f2f2f" stroke-width="0.06" text-anchor="middle">w<tspan font-size="5.53" dy="1.7" font-style="normal">17</tspan></text>
<rect x="223.87" y="180.80" width="12.53" height="13.00" fill="#F8F8F8" stroke="#222" stroke-width="1.15" rx="1.2" />
<text x="229.89" y="190.00" font-family='"Liberation Sans", sans-serif' font-size="7.0" font-style="italic" font-weight="normal" fill="#2f2f2f" stroke="#2f2f2f" stroke-width="0.06" text-anchor="middle">w<tspan font-size="5.53" dy="1.7" font-style="normal">19</tspan></text>
<rect x="237.30" y="180.80" width="12.53" height="13.00" fill="#F8F8F8" stroke="#222" stroke-width="1.15" rx="1.2" />
<text x="243.32" y="190.00" font-family='"Liberation Sans", sans-serif' font-size="7.0" font-style="italic" font-weight="normal" fill="#2f2f2f" stroke="#2f2f2f" stroke-width="0.06" text-anchor="middle">w<tspan font-size="5.53" dy="1.7" font-style="normal">21</tspan></text>
<rect x="250.73" y="180.80" width="12.53" height="13.00" fill="#F8F8F8" stroke="#222" stroke-width="1.15" rx="1.2" />
<text x="256.75" y="190.00" font-family='"Liberation Sans", sans-serif' font-size="7.0" font-style="italic" font-weight="normal" fill="#2f2f2f" stroke="#2f2f2f" stroke-width="0.06" text-anchor="middle">w<tspan font-size="5.53" dy="1.7" font-style="normal">23</tspan></text>
<rect x="30.00" y="237.40" width="322.50" height="44.40" fill="#FCEAE1" />
<rect x="30.00" y="281.80" width="322.50" height="81.20" fill="#FEF6E9" />
<text x="68.90" y="257.80" font-family='"Liberation Serif", serif' font-size="7.4" text-anchor="middle" font-weight="normal" font-style="normal" fill="#111" stroke="#111" stroke-width="0.18" >Sub-task Labels of</text>
<text x="68.90" y="264.35" font-family='"Liberation Serif", serif' font-size="7.4" text-anchor="middle" font-weight="normal" font-style="normal" fill="#111" stroke="#111" stroke-width="0.18" >ML-based Sub-task</text>
<text x="68.90" y="270.90" font-family='"Liberation Serif", serif' font-size="7.4" text-anchor="middle" font-weight="normal" font-style="normal" fill="#111" stroke="#111" stroke-width="0.18" >Segmentation</text>
<text x="68.50" y="294.90" font-family='"Liberation Serif", serif' font-size="7.4" text-anchor="middle" font-weight="normal" font-style="normal" fill="#111" stroke="#111" stroke-width="0.18" >Ground Truth</text>
<text x="68.70" y="311.30" font-family='"Liberation Serif", serif' font-size="7.4" text-anchor="middle" font-weight="normal" font-style="normal" fill="#111" stroke="#111" stroke-width="0.18" >Classification</text>
<text x="68.70" y="317.80" font-family='"Liberation Serif", serif' font-size="7.4" text-anchor="middle" font-weight="normal" font-style="normal" fill="#111" stroke="#111" stroke-width="0.18" >Results: <tspan font-weight="bold">Sub-task A</tspan></text>
<text x="68.70" y="332.10" font-family='"Liberation Serif", serif' font-size="7.4" text-anchor="middle" font-weight="normal" font-style="normal" fill="#111" stroke="#111" stroke-width="0.18" >Classification</text>
<text x="68.70" y="338.60" font-family='"Liberation Serif", serif' font-size="7.4" text-anchor="middle" font-weight="normal" font-style="normal" fill="#111" stroke="#111" stroke-width="0.18" >Results: <tspan font-weight="bold">Sub-task B</tspan></text>
<text x="68.70" y="350.90" font-family='"Liberation Serif", serif' font-size="7.4" text-anchor="middle" font-weight="normal" font-style="normal" fill="#111" stroke="#111" stroke-width="0.18" >Classification</text>
<text x="68.70" y="357.40" font-family='"Liberation Serif", serif' font-size="7.4" text-anchor="middle" font-weight="normal" font-style="normal" fill="#111" stroke="#111" stroke-width="0.18" >Results: <tspan font-weight="bold">Sub-task C</tspan></text>
<rect x="109.67" y="254.40" width="12.63" height="11.80" fill="#1A76D2" stroke="#1d1d26" stroke-width="0.85" rx="0.9" />
<text x="115.93" y="262.20" font-family='"Liberation Sans", sans-serif' font-size="6.8" font-style="italic" font-weight="bold" fill="#fff" text-anchor="middle">w<tspan font-size="5.37" dy="1.7" font-style="normal">2</tspan></text>
<rect x="123.10" y="254.40" width="12.63" height="11.80" fill="#D6950C" stroke="#1d1d26" stroke-width="0.85" rx="0.9" />
<text x="129.36" y="262.20" font-family='"Liberation Sans", sans-serif' font-size="6.8" font-style="italic" font-weight="bold" fill="#fff" text-anchor="middle">w<tspan font-size="5.37" dy="1.7" font-style="normal">4</tspan></text>
<rect x="136.52" y="254.40" width="12.63" height="11.80" fill="#D6950C" stroke="#1d1d26" stroke-width="0.85" rx="0.9" />
<text x="142.79" y="262.20" font-family='"Liberation Sans", sans-serif' font-size="6.8" font-style="italic" font-weight="bold" fill="#fff" text-anchor="middle">w<tspan font-size="5.37" dy="1.7" font-style="normal">6</tspan></text>
<rect x="149.95" y="254.40" width="12.63" height="11.80" fill="#D6950C" stroke="#1d1d26" stroke-width="0.85" rx="0.9" />
<text x="156.22" y="262.20" font-family='"Liberation Sans", sans-serif' font-size="6.8" font-style="italic" font-weight="bold" fill="#fff" text-anchor="middle">w<tspan font-size="5.37" dy="1.7" font-style="normal">8</tspan></text>
<rect x="163.38" y="254.40" width="12.63" height="11.80" fill="#1A76D2" stroke="#1d1d26" stroke-width="0.85" rx="0.9" />
<text x="169.45" y="262.20" font-family='"Liberation Sans", sans-serif' font-size="6.8" font-style="italic" font-weight="bold" fill="#fff" text-anchor="middle">w<tspan font-size="5.37" dy="1.7" font-style="normal">10</tspan></text>
<rect x="176.81" y="254.40" width="12.63" height="11.80" fill="#D6950C" stroke="#1d1d26" stroke-width="0.85" rx="0.9" />
<text x="182.88" y="262.20" font-family='"Liberation Sans", sans-serif' font-size="6.8" font-style="italic" font-weight="bold" fill="#fff" text-anchor="middle">w<tspan font-size="5.37" dy="1.7" font-style="normal">12</tspan></text>
<rect x="190.25" y="254.40" width="12.63" height="11.80" fill="#D6950C" stroke="#1d1d26" stroke-width="0.85" rx="0.9" />
<text x="196.31" y="262.20" font-family='"Liberation Sans", sans-serif' font-size="6.8" font-style="italic" font-weight="bold" fill="#fff" text-anchor="middle">w<tspan font-size="5.37" dy="1.7" font-style="normal">14</tspan></text>
<rect x="203.67" y="254.40" width="12.63" height="11.80" fill="#D6950C" stroke="#1d1d26" stroke-width="0.85" rx="0.9" />
<text x="209.74" y="262.20" font-family='"Liberation Sans", sans-serif' font-size="6.8" font-style="italic" font-weight="bold" fill="#fff" text-anchor="middle">w<tspan font-size="5.37" dy="1.7" font-style="normal">16</tspan></text>
<rect x="217.10" y="254.40" width="12.63" height="11.80" fill="#D6950C" stroke="#1d1d26" stroke-width="0.85" rx="0.9" />
<text x="223.17" y="262.20" font-family='"Liberation Sans", sans-serif' font-size="6.8" font-style="italic" font-weight="bold" fill="#fff" text-anchor="middle">w<tspan font-size="5.37" dy="1.7" font-style="normal">18</tspan></text>
<rect x="230.53" y="254.40" width="12.63" height="11.80" fill="#2C8A2F" stroke="#1d1d26" stroke-width="0.85" rx="0.9" />
<text x="236.60" y="262.20" font-family='"Liberation Sans", sans-serif' font-size="6.8" font-style="italic" font-weight="bold" fill="#fff" text-anchor="middle">w<tspan font-size="5.37" dy="1.7" font-style="normal">20</tspan></text>
<rect x="243.97" y="254.40" width="12.63" height="11.80" fill="#1A76D2" stroke="#1d1d26" stroke-width="0.85" rx="0.9" />
<text x="250.03" y="262.20" font-family='"Liberation Sans", sans-serif' font-size="6.8" font-style="italic" font-weight="bold" fill="#fff" text-anchor="middle">w<tspan font-size="5.37" dy="1.7" font-style="normal">22</tspan></text>
<rect x="102.95" y="241.30" width="12.63" height="12.60" fill="#1A76D2" stroke="#1d1d26" stroke-width="0.85" rx="0.9" />
<text x="109.22" y="249.80" font-family='"Liberation Sans", sans-serif' font-size="6.8" font-style="italic" font-weight="bold" fill="#fff" text-anchor="middle">w<tspan font-size="5.37" dy="1.7" font-style="normal">1</tspan></text>
<rect x="116.38" y="241.30" width="12.63" height="12.60" fill="#1A76D2" stroke="#1d1d26" stroke-width="0.85" rx="0.9" />
<text x="122.65" y="249.80" font-family='"Liberation Sans", sans-serif' font-size="6.8" font-style="italic" font-weight="bold" fill="#fff" text-anchor="middle">w<tspan font-size="5.37" dy="1.7" font-style="normal">3</tspan></text>
<rect x="129.81" y="241.30" width="12.63" height="12.60" fill="#1A76D2" stroke="#1d1d26" stroke-width="0.85" rx="0.9" />
<text x="136.08" y="249.80" font-family='"Liberation Sans", sans-serif' font-size="6.8" font-style="italic" font-weight="bold" fill="#fff" text-anchor="middle">w<tspan font-size="5.37" dy="1.7" font-style="normal">5</tspan></text>
<rect x="143.24" y="241.30" width="12.63" height="12.60" fill="#D6950C" stroke="#1d1d26" stroke-width="0.85" rx="0.9" />
<text x="149.50" y="249.80" font-family='"Liberation Sans", sans-serif' font-size="6.8" font-style="italic" font-weight="bold" fill="#fff" text-anchor="middle">w<tspan font-size="5.37" dy="1.7" font-style="normal">7</tspan></text>
<rect x="156.67" y="241.30" width="12.63" height="12.60" fill="#D6950C" stroke="#1d1d26" stroke-width="0.85" rx="0.9" />
<text x="162.94" y="249.80" font-family='"Liberation Sans", sans-serif' font-size="6.8" font-style="italic" font-weight="bold" fill="#fff" text-anchor="middle">w<tspan font-size="5.37" dy="1.7" font-style="normal">9</tspan></text>
<rect x="170.10" y="241.30" width="12.63" height="12.60" fill="#D6950C" stroke="#1d1d26" stroke-width="0.85" rx="0.9" />
<text x="176.17" y="249.80" font-family='"Liberation Sans", sans-serif' font-size="6.8" font-style="italic" font-weight="bold" fill="#fff" text-anchor="middle">w<tspan font-size="5.37" dy="1.7" font-style="normal">11</tspan></text>
<rect x="183.53" y="241.30" width="12.63" height="12.60" fill="#D6950C" stroke="#1d1d26" stroke-width="0.85" rx="0.9" />
<text x="189.59" y="249.80" font-family='"Liberation Sans", sans-serif' font-size="6.8" font-style="italic" font-weight="bold" fill="#fff" text-anchor="middle">w<tspan font-size="5.37" dy="1.7" font-style="normal">13</tspan></text>
<rect x="196.96" y="241.30" width="12.63" height="12.60" fill="#2C8A2F" stroke="#1d1d26" stroke-width="0.85" rx="0.9" />
<text x="203.03" y="249.80" font-family='"Liberation Sans", sans-serif' font-size="6.8" font-style="italic" font-weight="bold" fill="#fff" text-anchor="middle">w<tspan font-size="5.37" dy="1.7" font-style="normal">15</tspan></text>
<rect x="210.39" y="241.30" width="12.63" height="12.60" fill="#D6950C" stroke="#1d1d26" stroke-width="0.85" rx="0.9" />
<text x="216.46" y="249.80" font-family='"Liberation Sans", sans-serif' font-size="6.8" font-style="italic" font-weight="bold" fill="#fff" text-anchor="middle">w<tspan font-size="5.37" dy="1.7" font-style="normal">17</tspan></text>
<rect x="223.82" y="241.30" width="12.63" height="12.60" fill="#D6950C" stroke="#1d1d26" stroke-width="0.85" rx="0.9" />
<text x="229.89" y="249.80" font-family='"Liberation Sans", sans-serif' font-size="6.8" font-style="italic" font-weight="bold" fill="#fff" text-anchor="middle">w<tspan font-size="5.37" dy="1.7" font-style="normal">19</tspan></text>
<rect x="237.25" y="241.30" width="12.63" height="12.60" fill="#2C8A2F" stroke="#1d1d26" stroke-width="0.85" rx="0.9" />
<text x="243.32" y="249.80" font-family='"Liberation Sans", sans-serif' font-size="6.8" font-style="italic" font-weight="bold" fill="#fff" text-anchor="middle">w<tspan font-size="5.37" dy="1.7" font-style="normal">21</tspan></text>
<rect x="250.68" y="241.30" width="12.63" height="12.60" fill="#2C8A2F" stroke="#1d1d26" stroke-width="0.85" rx="0.9" />
<text x="256.75" y="249.80" font-family='"Liberation Sans", sans-serif' font-size="6.8" font-style="italic" font-weight="bold" fill="#fff" text-anchor="middle">w<tspan font-size="5.37" dy="1.7" font-style="normal">23</tspan></text>
<rect x="103.00" y="274.30" width="20.16" height="6.00" fill="url(#sB)" />
<rect x="123.46" y="274.30" width="7.14" height="6.00" fill="url(#sG)" />
<rect x="130.90" y="274.30" width="5.28" height="6.00" fill="url(#sB)" />
<rect x="136.48" y="274.30" width="27.60" height="6.00" fill="url(#sG)" />
<rect x="164.38" y="274.30" width="5.28" height="6.00" fill="url(#sB)" />
<rect x="169.96" y="274.30" width="27.60" height="6.00" fill="url(#sG)" />
<rect x="197.86" y="274.30" width="5.28" height="6.00" fill="url(#sR)" />
<rect x="203.44" y="274.30" width="25.74" height="6.00" fill="url(#sG)" />
<rect x="229.48" y="274.30" width="14.58" height="6.00" fill="url(#sR)" />
<rect x="244.36" y="274.30" width="5.28" height="6.00" fill="url(#sB)" />
<rect x="249.94" y="274.30" width="14.58" height="6.00" fill="url(#sR)" />
<rect x="103.00" y="290.00" width="27.60" height="6.00" fill="url(#sB)" />
<rect x="132.76" y="290.00" width="103.86" height="6.00" fill="url(#sG)" />
<rect x="236.92" y="290.00" width="27.60" height="6.00" fill="url(#sR)" />
<rect x="103.00" y="309.70" width="20.11" height="6.60" fill="#5DC636" />
<rect x="123.06" y="309.70" width="6.73" height="6.60" fill="#FCD8C0" />
<rect x="129.74" y="309.70" width="6.73" height="6.60" fill="#41CAF5" />
<rect x="136.43" y="309.70" width="26.79" height="6.60" fill="#EEEEEE" />
<rect x="163.16" y="309.70" width="6.73" height="6.60" fill="#41CAF5" />
<rect x="169.85" y="309.70" width="73.58" height="6.60" fill="#EEEEEE" />
<rect x="243.38" y="309.70" width="6.73" height="6.60" fill="#41CAF5" />
<rect x="250.07" y="309.70" width="13.42" height="6.60" fill="#EEEEEE" />
<rect x="103.00" y="309.70" width="160.44" height="6.60" fill="url(#dots)" />
<rect x="103.00" y="309.70" width="160.44" height="6.60" fill="none" stroke="#9a9a9a" stroke-width="0.5" />
<rect x="103.00" y="330.80" width="20.11" height="6.60" fill="#EEEEEE" />
<rect x="123.06" y="330.80" width="6.73" height="6.60" fill="#41CAF5" />
<rect x="129.74" y="330.80" width="6.73" height="6.60" fill="#FCD8C0" />
<rect x="136.43" y="330.80" width="26.79" height="6.60" fill="#5DC636" />
<rect x="163.16" y="330.80" width="6.73" height="6.60" fill="#FCD8C0" />
<rect x="169.85" y="330.80" width="26.79" height="6.60" fill="#5DC636" />
<rect x="196.59" y="330.80" width="6.73" height="6.60" fill="#FCD8C0" />
<rect x="203.27" y="330.80" width="26.79" height="6.60" fill="#5DC636" />
<rect x="230.01" y="330.80" width="6.73" height="6.60" fill="#FCD8C0" />
<rect x="236.70" y="330.80" width="26.79" height="6.60" fill="#EEEEEE" />
<rect x="103.00" y="330.80" width="160.44" height="6.60" fill="url(#dots)" />
<rect x="103.00" y="330.80" width="160.44" height="6.60" fill="none" stroke="#9a9a9a" stroke-width="0.5" />
<rect x="103.00" y="350.20" width="93.64" height="6.60" fill="#EEEEEE" />
<rect x="196.59" y="350.20" width="6.73" height="6.60" fill="#41CAF5" />
<rect x="203.27" y="350.20" width="26.79" height="6.60" fill="#EEEEEE" />
<rect x="230.01" y="350.20" width="6.73" height="6.60" fill="#41CAF5" />
<rect x="236.70" y="350.20" width="6.73" height="6.60" fill="#5DC636" />
<rect x="243.38" y="350.20" width="6.73" height="6.60" fill="#FCD8C0" />
<rect x="250.07" y="350.20" width="13.42" height="6.60" fill="#5DC636" />
<rect x="103.00" y="350.20" width="160.44" height="6.60" fill="url(#dots)" />
<rect x="103.00" y="350.20" width="160.44" height="6.60" fill="none" stroke="#9a9a9a" stroke-width="0.5" />
<line x1="123.06" y1="267.40" x2="123.06" y2="357.30" stroke="#F73338" stroke-width="1.25" />
<line x1="129.74" y1="267.40" x2="129.74" y2="357.30" stroke="#F73338" stroke-width="1.25" />
<line x1="136.43" y1="267.40" x2="136.43" y2="357.30" stroke="#F73338" stroke-width="1.25" />
<line x1="163.16" y1="267.40" x2="163.16" y2="357.30" stroke="#F73338" stroke-width="1.25" />
<line x1="169.85" y1="267.40" x2="169.85" y2="357.30" stroke="#F73338" stroke-width="1.25" />
<line x1="196.59" y1="267.40" x2="196.59" y2="357.30" stroke="#F73338" stroke-width="1.25" />
<line x1="203.27" y1="267.40" x2="203.27" y2="357.30" stroke="#F73338" stroke-width="1.25" />
<line x1="230.01" y1="267.40" x2="230.01" y2="357.30" stroke="#F73338" stroke-width="1.25" />
<line x1="236.70" y1="267.40" x2="236.70" y2="357.30" stroke="#F73338" stroke-width="1.25" />
<line x1="243.38" y1="267.40" x2="243.38" y2="357.30" stroke="#F73338" stroke-width="1.25" />
<line x1="250.07" y1="267.40" x2="250.07" y2="357.30" stroke="#F73338" stroke-width="1.25" />
<rect x="30.00" y="392.20" width="322.50" height="45.20" fill="#FCEAE1" />
<rect x="30.00" y="437.40" width="322.50" height="80.60" fill="#FEF6E9" />
<text x="68.90" y="413.40" font-family='"Liberation Serif", serif' font-size="7.4" text-anchor="middle" font-weight="normal" font-style="normal" fill="#111" stroke="#111" stroke-width="0.18" >Sub-task Labels of</text>
<text x="68.90" y="419.95" font-family='"Liberation Serif", serif' font-size="7.4" text-anchor="middle" font-weight="normal" font-style="normal" fill="#111" stroke="#111" stroke-width="0.18" >Rule-based</text>
<text x="68.90" y="426.50" font-family='"Liberation Serif", serif' font-size="7.4" text-anchor="middle" font-weight="normal" font-style="normal" fill="#111" stroke="#111" stroke-width="0.18" >Modification</text>
<text x="68.50" y="450.50" font-family='"Liberation Serif", serif' font-size="7.4" text-anchor="middle" font-weight="normal" font-style="normal" fill="#111" stroke="#111" stroke-width="0.18" >Ground Truth</text>
<text x="68.70" y="466.90" font-family='"Liberation Serif", serif' font-size="7.4" text-anchor="middle" font-weight="normal" font-style="normal" fill="#111" stroke="#111" stroke-width="0.18" >Classification</text>
<text x="68.70" y="473.40" font-family='"Liberation Serif", serif' font-size="7.4" text-anchor="middle" font-weight="normal" font-style="normal" fill="#111" stroke="#111" stroke-width="0.18" >Results: <tspan font-weight="bold">Sub-task A</tspan></text>
<text x="68.70" y="487.70" font-family='"Liberation Serif", serif' font-size="7.4" text-anchor="middle" font-weight="normal" font-style="normal" fill="#111" stroke="#111" stroke-width="0.18" >Classification</text>
<text x="68.70" y="494.20" font-family='"Liberation Serif", serif' font-size="7.4" text-anchor="middle" font-weight="normal" font-style="normal" fill="#111" stroke="#111" stroke-width="0.18" >Results: <tspan font-weight="bold">Sub-task B</tspan></text>
<text x="68.70" y="506.50" font-family='"Liberation Serif", serif' font-size="7.4" text-anchor="middle" font-weight="normal" font-style="normal" fill="#111" stroke="#111" stroke-width="0.18" >Classification</text>
<text x="68.70" y="513.00" font-family='"Liberation Serif", serif' font-size="7.4" text-anchor="middle" font-weight="normal" font-style="normal" fill="#111" stroke="#111" stroke-width="0.18" >Results: <tspan font-weight="bold">Sub-task C</tspan></text>
<rect x="109.67" y="409.40" width="12.63" height="11.80" fill="#1A76D2" stroke="#1d1d26" stroke-width="0.85" rx="0.9" />
<text x="115.93" y="417.20" font-family='"Liberation Sans", sans-serif' font-size="6.8" font-style="italic" font-weight="normal" fill="#fff" stroke="#fff" stroke-width="0.1" fill-opacity="0.68" text-anchor="middle">w<tspan font-size="5.37" dy="1.7" font-style="normal">2</tspan></text>
<rect x="123.10" y="409.40" width="12.63" height="11.80" fill="#1A76D2" stroke="#1d1d26" stroke-width="0.85" rx="0.9" />
<text x="129.36" y="417.20" font-family='"Liberation Sans", sans-serif' font-size="6.9" font-style="italic" font-weight="bold" fill="#fff" stroke="#fff" stroke-width="0.15" text-anchor="middle">w<tspan font-size="5.45" dy="1.7" font-style="normal">4</tspan></text>
<rect x="136.52" y="409.40" width="12.63" height="11.80" fill="#D6950C" stroke="#1d1d26" stroke-width="0.85" rx="0.9" />
<text x="142.79" y="417.20" font-family='"Liberation Sans", sans-serif' font-size="6.8" font-style="italic" font-weight="normal" fill="#fff" stroke="#fff" stroke-width="0.1" fill-opacity="0.68" text-anchor="middle">w<tspan font-size="5.37" dy="1.7" font-style="normal">6</tspan></text>
<rect x="149.95" y="409.40" width="12.63" height="11.80" fill="#D6950C" stroke="#1d1d26" stroke-width="0.85" rx="0.9" />
<text x="156.22" y="417.20" font-family='"Liberation Sans", sans-serif' font-size="6.8" font-style="italic" font-weight="normal" fill="#fff" stroke="#fff" stroke-width="0.1" fill-opacity="0.68" text-anchor="middle">w<tspan font-size="5.37" dy="1.7" font-style="normal">8</tspan></text>
<rect x="163.38" y="409.40" width="12.63" height="11.80" fill="#D6950C" stroke="#1d1d26" stroke-width="0.85" rx="0.9" />
<text x="169.45" y="417.20" font-family='"Liberation Sans", sans-serif' font-size="6.9" font-style="italic" font-weight="bold" fill="#fff" stroke="#fff" stroke-width="0.15" text-anchor="middle">w<tspan font-size="5.45" dy="1.7" font-style="normal">10</tspan></text>
<rect x="176.81" y="409.40" width="12.63" height="11.80" fill="#D6950C" stroke="#1d1d26" stroke-width="0.85" rx="0.9" />
<text x="182.88" y="417.20" font-family='"Liberation Sans", sans-serif' font-size="6.8" font-style="italic" font-weight="normal" fill="#fff" stroke="#fff" stroke-width="0.1" fill-opacity="0.68" text-anchor="middle">w<tspan font-size="5.37" dy="1.7" font-style="normal">12</tspan></text>
<rect x="190.25" y="409.40" width="12.63" height="11.80" fill="#D6950C" stroke="#1d1d26" stroke-width="0.85" rx="0.9" />
<text x="196.31" y="417.20" font-family='"Liberation Sans", sans-serif' font-size="6.8" font-style="italic" font-weight="normal" fill="#fff" stroke="#fff" stroke-width="0.1" fill-opacity="0.68" text-anchor="middle">w<tspan font-size="5.37" dy="1.7" font-style="normal">14</tspan></text>
<rect x="203.67" y="409.40" width="12.63" height="11.80" fill="#D6950C" stroke="#1d1d26" stroke-width="0.85" rx="0.9" />
<text x="209.74" y="417.20" font-family='"Liberation Sans", sans-serif' font-size="6.8" font-style="italic" font-weight="normal" fill="#fff" stroke="#fff" stroke-width="0.1" fill-opacity="0.68" text-anchor="middle">w<tspan font-size="5.37" dy="1.7" font-style="normal">16</tspan></text>
<rect x="217.10" y="409.40" width="12.63" height="11.80" fill="#D6950C" stroke="#1d1d26" stroke-width="0.85" rx="0.9" />
<text x="223.17" y="417.20" font-family='"Liberation Sans", sans-serif' font-size="6.8" font-style="italic" font-weight="normal" fill="#fff" stroke="#fff" stroke-width="0.1" fill-opacity="0.68" text-anchor="middle">w<tspan font-size="5.37" dy="1.7" font-style="normal">18</tspan></text>
<rect x="230.53" y="409.40" width="12.63" height="11.80" fill="#2C8A2F" stroke="#1d1d26" stroke-width="0.85" rx="0.9" />
<text x="236.60" y="417.20" font-family='"Liberation Sans", sans-serif' font-size="6.8" font-style="italic" font-weight="normal" fill="#fff" stroke="#fff" stroke-width="0.1" fill-opacity="0.68" text-anchor="middle">w<tspan font-size="5.37" dy="1.7" font-style="normal">20</tspan></text>
<rect x="243.97" y="409.40" width="12.63" height="11.80" fill="#2C8A2F" stroke="#1d1d26" stroke-width="0.85" rx="0.9" />
<text x="250.03" y="417.20" font-family='"Liberation Sans", sans-serif' font-size="6.9" font-style="italic" font-weight="bold" fill="#fff" stroke="#fff" stroke-width="0.15" text-anchor="middle">w<tspan font-size="5.45" dy="1.7" font-style="normal">22</tspan></text>
<rect x="102.95" y="396.30" width="12.63" height="12.60" fill="#1A76D2" stroke="#1d1d26" stroke-width="0.85" rx="0.9" />
<text x="109.22" y="404.80" font-family='"Liberation Sans", sans-serif' font-size="6.8" font-style="italic" font-weight="normal" fill="#fff" stroke="#fff" stroke-width="0.1" fill-opacity="0.68" text-anchor="middle">w<tspan font-size="5.37" dy="1.7" font-style="normal">1</tspan></text>
<rect x="116.38" y="396.30" width="12.63" height="12.60" fill="#1A76D2" stroke="#1d1d26" stroke-width="0.85" rx="0.9" />
<text x="122.65" y="404.80" font-family='"Liberation Sans", sans-serif' font-size="6.8" font-style="italic" font-weight="normal" fill="#fff" stroke="#fff" stroke-width="0.1" fill-opacity="0.68" text-anchor="middle">w<tspan font-size="5.37" dy="1.7" font-style="normal">3</tspan></text>
<rect x="129.81" y="396.30" width="12.63" height="12.60" fill="#1A76D2" stroke="#1d1d26" stroke-width="0.85" rx="0.9" />
<text x="136.08" y="404.80" font-family='"Liberation Sans", sans-serif' font-size="6.8" font-style="italic" font-weight="normal" fill="#fff" stroke="#fff" stroke-width="0.1" fill-opacity="0.68" text-anchor="middle">w<tspan font-size="5.37" dy="1.7" font-style="normal">5</tspan></text>
<rect x="143.24" y="396.30" width="12.63" height="12.60" fill="#D6950C" stroke="#1d1d26" stroke-width="0.85" rx="0.9" />
<text x="149.50" y="404.80" font-family='"Liberation Sans", sans-serif' font-size="6.8" font-style="italic" font-weight="normal" fill="#fff" stroke="#fff" stroke-width="0.1" fill-opacity="0.68" text-anchor="middle">w<tspan font-size="5.37" dy="1.7" font-style="normal">7</tspan></text>
<rect x="156.67" y="396.30" width="12.63" height="12.60" fill="#D6950C" stroke="#1d1d26" stroke-width="0.85" rx="0.9" />
<text x="162.94" y="404.80" font-family='"Liberation Sans", sans-serif' font-size="6.8" font-style="italic" font-weight="normal" fill="#fff" stroke="#fff" stroke-width="0.1" fill-opacity="0.68" text-anchor="middle">w<tspan font-size="5.37" dy="1.7" font-style="normal">9</tspan></text>
<rect x="170.10" y="396.30" width="12.63" height="12.60" fill="#D6950C" stroke="#1d1d26" stroke-width="0.85" rx="0.9" />
<text x="176.17" y="404.80" font-family='"Liberation Sans", sans-serif' font-size="6.8" font-style="italic" font-weight="normal" fill="#fff" stroke="#fff" stroke-width="0.1" fill-opacity="0.68" text-anchor="middle">w<tspan font-size="5.37" dy="1.7" font-style="normal">11</tspan></text>
<rect x="183.53" y="396.30" width="12.63" height="12.60" fill="#D6950C" stroke="#1d1d26" stroke-width="0.85" rx="0.9" />
<text x="189.59" y="404.80" font-family='"Liberation Sans", sans-serif' font-size="6.8" font-style="italic" font-weight="normal" fill="#fff" stroke="#fff" stroke-width="0.1" fill-opacity="0.68" text-anchor="middle">w<tspan font-size="5.37" dy="1.7" font-style="normal">13</tspan></text>
<rect x="196.96" y="396.30" width="12.63" height="12.60" fill="#D6950C" stroke="#1d1d26" stroke-width="0.85" rx="0.9" />
<text x="203.03" y="404.80" font-family='"Liberation Sans", sans-serif' font-size="6.9" font-style="italic" font-weight="bold" fill="#fff" stroke="#fff" stroke-width="0.15" text-anchor="middle">w<tspan font-size="5.45" dy="1.7" font-style="normal">15</tspan></text>
<rect x="210.39" y="396.30" width="12.63" height="12.60" fill="#D6950C" stroke="#1d1d26" stroke-width="0.85" rx="0.9" />
<text x="216.46" y="404.80" font-family='"Liberation Sans", sans-serif' font-size="6.8" font-style="italic" font-weight="normal" fill="#fff" stroke="#fff" stroke-width="0.1" fill-opacity="0.68" text-anchor="middle">w<tspan font-size="5.37" dy="1.7" font-style="normal">17</tspan></text>
<rect x="223.82" y="396.30" width="12.63" height="12.60" fill="#D6950C" stroke="#1d1d26" stroke-width="0.85" rx="0.9" />
<text x="229.89" y="404.80" font-family='"Liberation Sans", sans-serif' font-size="6.8" font-style="italic" font-weight="normal" fill="#fff" stroke="#fff" stroke-width="0.1" fill-opacity="0.68" text-anchor="middle">w<tspan font-size="5.37" dy="1.7" font-style="normal">19</tspan></text>
<rect x="237.25" y="396.30" width="12.63" height="12.60" fill="#2C8A2F" stroke="#1d1d26" stroke-width="0.85" rx="0.9" />
<text x="243.32" y="404.80" font-family='"Liberation Sans", sans-serif' font-size="6.8" font-style="italic" font-weight="normal" fill="#fff" stroke="#fff" stroke-width="0.1" fill-opacity="0.68" text-anchor="middle">w<tspan font-size="5.37" dy="1.7" font-style="normal">21</tspan></text>
<rect x="250.68" y="396.30" width="12.63" height="12.60" fill="#2C8A2F" stroke="#1d1d26" stroke-width="0.85" rx="0.9" />
<text x="256.75" y="404.80" font-family='"Liberation Sans", sans-serif' font-size="6.8" font-style="italic" font-weight="normal" fill="#fff" stroke="#fff" stroke-width="0.1" fill-opacity="0.68" text-anchor="middle">w<tspan font-size="5.37" dy="1.7" font-style="normal">23</tspan></text>
<rect x="103.00" y="429.90" width="33.18" height="6.00" fill="url(#sB)" />
<rect x="136.48" y="429.90" width="92.70" height="6.00" fill="url(#sG)" />
<rect x="229.48" y="429.90" width="35.04" height="6.00" fill="url(#sR)" />
<rect x="103.00" y="445.60" width="27.60" height="6.00" fill="url(#sB)" />
<rect x="132.76" y="445.60" width="103.86" height="6.00" fill="url(#sG)" />
<rect x="236.92" y="445.60" width="27.60" height="6.00" fill="url(#sR)" />
<rect x="103.00" y="465.30" width="26.79" height="6.60" fill="#5DC636" />
<rect x="129.74" y="465.30" width="6.73" height="6.60" fill="#41CAF5" />
<rect x="136.43" y="465.30" width="127.06" height="6.60" fill="#EEEEEE" />
<rect x="103.00" y="465.30" width="160.44" height="6.60" fill="url(#dots)" />
<rect x="103.00" y="465.30" width="160.44" height="6.60" fill="none" stroke="#9a9a9a" stroke-width="0.5" />
<rect x="103.00" y="486.40" width="26.79" height="6.60" fill="#EEEEEE" />
<rect x="129.74" y="486.40" width="6.73" height="6.60" fill="#FCD8C0" />
<rect x="136.43" y="486.40" width="93.64" height="6.60" fill="#5DC636" />
<rect x="230.01" y="486.40" width="6.73" height="6.60" fill="#FCD8C0" />
<rect x="236.70" y="486.40" width="26.79" height="6.60" fill="#EEEEEE" />
<rect x="103.00" y="486.40" width="160.44" height="6.60" fill="url(#dots)" />
<rect x="103.00" y="486.40" width="160.44" height="6.60" fill="none" stroke="#9a9a9a" stroke-width="0.5" />
<rect x="103.00" y="505.80" width="127.06" height="6.60" fill="#EEEEEE" />
<rect x="230.01" y="505.80" width="6.73" height="6.60" fill="#41CAF5" />
<rect x="236.70" y="505.80" width="26.79" height="6.60" fill="#5DC636" />
<rect x="103.00" y="505.80" width="160.44" height="6.60" fill="url(#dots)" />
<rect x="103.00" y="505.80" width="160.44" height="6.60" fill="none" stroke="#9a9a9a" stroke-width="0.5" />
<line x1="123.06" y1="422.40" x2="123.06" y2="512.90" stroke="#F73338" stroke-width="1.25" />
<line x1="129.74" y1="422.40" x2="129.74" y2="512.90" stroke="#F73338" stroke-width="1.25" />
<line x1="136.43" y1="422.40" x2="136.43" y2="512.90" stroke="#F73338" stroke-width="1.25" />
<line x1="163.16" y1="422.40" x2="163.16" y2="512.90" stroke="#F73338" stroke-width="1.25" />
<line x1="169.85" y1="422.40" x2="169.85" y2="512.90" stroke="#F73338" stroke-width="1.25" />
<line x1="196.59" y1="422.40" x2="196.59" y2="512.90" stroke="#F73338" stroke-width="1.25" />
<line x1="203.27" y1="422.40" x2="203.27" y2="512.90" stroke="#F73338" stroke-width="1.25" />
<line x1="230.01" y1="422.40" x2="230.01" y2="512.90" stroke="#F73338" stroke-width="1.25" />
<line x1="236.70" y1="422.40" x2="236.70" y2="512.90" stroke="#F73338" stroke-width="1.25" />
<line x1="243.38" y1="422.40" x2="243.38" y2="512.90" stroke="#F73338" stroke-width="1.25" />
<line x1="250.07" y1="422.40" x2="250.07" y2="512.90" stroke="#F73338" stroke-width="1.25" />
<rect x="122.75" y="408.70" width="13.23" height="13.10" fill="none" stroke="#F01418" stroke-width="1.75" rx="1.2" />
<rect x="163.03" y="408.70" width="13.23" height="13.10" fill="none" stroke="#F01418" stroke-width="1.75" rx="1.2" />
<rect x="196.61" y="395.90" width="13.23" height="13.20" fill="none" stroke="#F01418" stroke-width="1.75" rx="1.2" />
<rect x="243.62" y="408.70" width="13.23" height="13.10" fill="none" stroke="#F01418" stroke-width="1.75" rx="1.2" />
<rect x="271.70" y="248.20" width="75.80" height="105.50" fill="#fff" stroke="#858585" stroke-width="0.9" />
<text x="284.6" y="257.90" font-family='"Liberation Sans", sans-serif' font-size="8.8" font-style="italic" font-weight="bold" fill="#111" text-anchor="middle">w<tspan font-size="6.8" dy="1.7">j</tspan></text>
<text x="296.0" y="257.90" font-family='"Liberation Serif", serif' font-size="7.4" fill="#111" stroke="#111" stroke-width="0.15">The <tspan font-style="italic">j</tspan>th segment</text>
<text x="296.00" y="271.40" font-family='"Liberation Serif", serif' font-size="7.55" text-anchor="start" font-weight="normal" font-style="normal" fill="#111" stroke="#111" stroke-width="0.18" >Sub-task A</text>
<rect x="275.00" y="265.80" width="18.90" height="6.50" fill="url(#sBL)" />
<text x="296.00" y="284.40" font-family='"Liberation Serif", serif' font-size="7.55" text-anchor="start" font-weight="normal" font-style="normal" fill="#111" stroke="#111" stroke-width="0.18" >Sub-task B</text>
<rect x="275.00" y="278.80" width="18.90" height="6.50" fill="url(#sGL)" />
<text x="296.00" y="297.20" font-family='"Liberation Serif", serif' font-size="7.55" text-anchor="start" font-weight="normal" font-style="normal" fill="#111" stroke="#111" stroke-width="0.18" >Sub-task C</text>
<rect x="275.00" y="291.60" width="18.90" height="6.50" fill="url(#sRL)" />
<text x="296.00" y="310.60" font-family='"Liberation Serif", serif' font-size="7.55" text-anchor="start" font-weight="normal" font-style="normal" fill="#111" stroke="#111" stroke-width="0.18" >True Positive</text>
<rect x="275.00" y="305.00" width="19.00" height="6.50" fill="#5DC636" />
<rect x="275.00" y="305.00" width="19.00" height="6.50" fill="url(#dots)" />
<rect x="275.00" y="305.00" width="19.00" height="6.50" fill="none" stroke="#9a9a9a" stroke-width="0.5" />
<text x="296.00" y="323.90" font-family='"Liberation Serif", serif' font-size="7.55" text-anchor="start" font-weight="normal" font-style="normal" fill="#111" stroke="#111" stroke-width="0.18" >True Negative</text>
<rect x="275.00" y="318.30" width="19.00" height="6.50" fill="#EEEEEE" />
<rect x="275.00" y="318.30" width="19.00" height="6.50" fill="url(#dots)" />
<rect x="275.00" y="318.30" width="19.00" height="6.50" fill="none" stroke="#9a9a9a" stroke-width="0.5" />
<text x="296.00" y="336.80" font-family='"Liberation Serif", serif' font-size="7.55" text-anchor="start" font-weight="normal" font-style="normal" fill="#111" stroke="#111" stroke-width="0.18" >False Positive</text>
<rect x="275.00" y="331.20" width="19.00" height="6.50" fill="#41CAF5" />
<rect x="275.00" y="331.20" width="19.00" height="6.50" fill="url(#dots)" />
<rect x="275.00" y="331.20" width="19.00" height="6.50" fill="none" stroke="#9a9a9a" stroke-width="0.5" />
<text x="296.00" y="349.50" font-family='"Liberation Serif", serif' font-size="7.55" text-anchor="start" font-weight="normal" font-style="normal" fill="#111" stroke="#111" stroke-width="0.18" >False Negative</text>
<rect x="275.00" y="343.90" width="19.00" height="6.50" fill="#FCD8C0" />
<rect x="275.00" y="343.90" width="19.00" height="6.50" fill="url(#dots)" />
<rect x="275.00" y="343.90" width="19.00" height="6.50" fill="none" stroke="#9a9a9a" stroke-width="0.5" />
<rect x="271.70" y="403.20" width="75.80" height="105.50" fill="#fff" stroke="#858585" stroke-width="0.9" />
<text x="284.6" y="412.90" font-family='"Liberation Sans", sans-serif' font-size="8.8" font-style="italic" font-weight="bold" fill="#111" text-anchor="middle">w<tspan font-size="6.8" dy="1.7">j</tspan></text>
<text x="296.0" y="412.90" font-family='"Liberation Serif", serif' font-size="7.4" fill="#111" stroke="#111" stroke-width="0.15">The <tspan font-style="italic">j</tspan>th segment</text>
<text x="296.00" y="426.40" font-family='"Liberation Serif", serif' font-size="7.55" text-anchor="start" font-weight="normal" font-style="normal" fill="#111" stroke="#111" stroke-width="0.18" >Sub-task A</text>
<rect x="275.00" y="420.80" width="18.90" height="6.50" fill="url(#sBL)" />
<text x="296.00" y="439.40" font-family='"Liberation Serif", serif' font-size="7.55" text-anchor="start" font-weight="normal" font-style="normal" fill="#111" stroke="#111" stroke-width="0.18" >Sub-task B</text>
<rect x="275.00" y="433.80" width="18.90" height="6.50" fill="url(#sGL)" />
<text x="296.00" y="452.20" font-family='"Liberation Serif", serif' font-size="7.55" text-anchor="start" font-weight="normal" font-style="normal" fill="#111" stroke="#111" stroke-width="0.18" >Sub-task C</text>
<rect x="275.00" y="446.60" width="18.90" height="6.50" fill="url(#sRL)" />
<text x="296.00" y="465.60" font-family='"Liberation Serif", serif' font-size="7.55" text-anchor="start" font-weight="normal" font-style="normal" fill="#111" stroke="#111" stroke-width="0.18" >True Positive</text>
<rect x="275.00" y="460.00" width="19.00" height="6.50" fill="#5DC636" />
<rect x="275.00" y="460.00" width="19.00" height="6.50" fill="url(#dots)" />
<rect x="275.00" y="460.00" width="19.00" height="6.50" fill="none" stroke="#9a9a9a" stroke-width="0.5" />
<text x="296.00" y="478.90" font-family='"Liberation Serif", serif' font-size="7.55" text-anchor="start" font-weight="normal" font-style="normal" fill="#111" stroke="#111" stroke-width="0.18" >True Negative</text>
<rect x="275.00" y="473.30" width="19.00" height="6.50" fill="#EEEEEE" />
<rect x="275.00" y="473.30" width="19.00" height="6.50" fill="url(#dots)" />
<rect x="275.00" y="473.30" width="19.00" height="6.50" fill="none" stroke="#9a9a9a" stroke-width="0.5" />
<text x="296.00" y="491.80" font-family='"Liberation Serif", serif' font-size="7.55" text-anchor="start" font-weight="normal" font-style="normal" fill="#111" stroke="#111" stroke-width="0.18" >False Positive</text>
<rect x="275.00" y="486.20" width="19.00" height="6.50" fill="#41CAF5" />
<rect x="275.00" y="486.20" width="19.00" height="6.50" fill="url(#dots)" />
<rect x="275.00" y="486.20" width="19.00" height="6.50" fill="none" stroke="#9a9a9a" stroke-width="0.5" />
<text x="296.00" y="504.50" font-family='"Liberation Serif", serif' font-size="7.55" text-anchor="start" font-weight="normal" font-style="normal" fill="#111" stroke="#111" stroke-width="0.18" >False Negative</text>
<rect x="275.00" y="498.90" width="19.00" height="6.50" fill="#FCD8C0" />
<rect x="275.00" y="498.90" width="19.00" height="6.50" fill="url(#dots)" />
<rect x="275.00" y="498.90" width="19.00" height="6.50" fill="none" stroke="#9a9a9a" stroke-width="0.5" />
<line x1="126.40" y1="523.70" x2="246.73" y2="523.70" stroke="#F5843C" stroke-width="1.0" />
<line x1="126.40" y1="524.20" x2="126.40" y2="514.50" stroke="#F5843C" stroke-width="1.0" />
<path d="M124.10,517.20 L126.40,512.80 L128.70,517.20" fill="none" stroke="#F5843C" stroke-width="1.0"/>
<line x1="166.51" y1="524.20" x2="166.51" y2="514.50" stroke="#F5843C" stroke-width="1.0" />
<path d="M164.21,517.20 L166.51,512.80 L168.81,517.20" fill="none" stroke="#F5843C" stroke-width="1.0"/>
<line x1="199.93" y1="524.20" x2="199.93" y2="514.50" stroke="#F5843C" stroke-width="1.0" />
<path d="M197.63,517.20 L199.93,512.80 L202.23,517.20" fill="none" stroke="#F5843C" stroke-width="1.0"/>
<line x1="246.73" y1="524.20" x2="246.73" y2="514.50" stroke="#F5843C" stroke-width="1.0" />
<path d="M244.43,517.20 L246.73,512.80 L249.03,517.20" fill="none" stroke="#F5843C" stroke-width="1.0"/>
<text x="196.70" y="533.30" font-family='"Liberation Serif", serif' font-size="9.4" text-anchor="middle" font-weight="normal" font-style="normal" fill="#111" stroke="#111" stroke-width="0.18" >Successful</text>
<text x="197.00" y="540.60" font-family='"Liberation Serif", serif' font-size="9.05" text-anchor="middle" font-weight="normal" font-style="normal" fill="#111" stroke="#111" stroke-width="0.18" >Modification</text>
</svg>
</body></html>
